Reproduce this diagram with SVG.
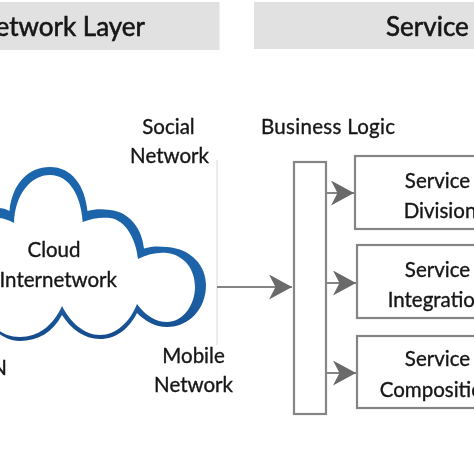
<svg xmlns="http://www.w3.org/2000/svg" width="474" height="474" viewBox="0 0 474 474">
<defs>
<filter id="soft" x="-5%" y="-5%" width="110%" height="110%"><feGaussianBlur stdDeviation="0.45"/></filter>
<linearGradient id="blue" x1="0" y1="0" x2="0" y2="1"><stop offset="0" stop-color="#1f66ad"/><stop offset=".7" stop-color="#1f63a8"/><stop offset="1" stop-color="#154a8a"/></linearGradient>
<marker id="arrow" markerUnits="userSpaceOnUse" markerWidth="24" markerHeight="26" refX="23" refY="12.5" orient="auto"><path d="M0 0L23 12.5L0 25L6.5 12.500Z" fill="#6a6a6a"/></marker>
</defs>
<style>
text{font-family:Lato,"Open Sans","Liberation Sans",sans-serif;font-size:20.5px;fill:#161616;stroke:#161616;stroke-width:.35px;text-anchor:middle}
.head{fill:#e1e1e1}
.hd{font-size:26px;stroke-width:.6px}
.box{fill:#fff;stroke:#858585;stroke-width:2.2}
.link{fill:none;stroke:#858585;stroke-width:2}
</style>
<rect width="474" height="474" fill="#fff"/>
<g filter="url(#soft)">
<g id="network-layer"><rect class="head" x="-2" y="2" width="221.500" height="48"/><text class="hd" x="145" y="36" style="text-anchor:end">Network Layer</text></g>
<g id="service-layer"><rect class="head" x="254" y="2" width="222" height="47"/><text class="hd" x="386" y="36" style="text-anchor:start">Service</text></g>
<path d="M217 160V345" stroke="#e6e6e6" stroke-width="1.500" fill="none"/>
<g id="cloud">
<path d="M-2 208C3 208 6 209 9.500 211C12 184 28 167 50 167C72 167 85 186 87.500 211C95 209 102 209 110 210C130 212 142 229 144 248.500C151 246 159 246 167 247C192 249 206 266 206 285C206 309 189 327 167 327C155 327 145 321 137 313C129 329 116 339 100 339C84 339 71 329 62 315C53 332 38 341 20 341C10 341 4 337 -2 333Z" fill="url(#blue)"/>
<path d="M-2 218C3 218 9 220 14 223C15 194 31 175 50 175C69 175 81 195 82.700 222C92 218 102 217 110 218C126 220 136 240 138 259C148 254 158 252 167 253C184 255 195 269 195 287C195 306 182 322 167 322C156 322 146 316 137 304C130 322 116 335 100 335C84 335 70 322 62 306C53 326 38 337 20 337C10 337 4 334 -2 330Z" fill="#fff"/>
<text x="54" y="257">Cloud</text><text x="117" y="287" style="text-anchor:end">Internetwork</text>
</g>
<g id="social-network"><text x="168.500" y="134">Social</text><text x="169.500" y="163">Network</text></g>
<g id="mobile-network"><text x="193.500" y="363">Mobile</text><text x="193.500" y="392">Network</text></g>
<g id="wan"><text x="7" y="375" style="text-anchor:end">N</text></g>
<g id="business-logic"><text x="328" y="134" textLength="134">Business Logic</text><rect class="box" x="294" y="162" width="32" height="252"/></g>
<g id="service-division"><rect class="box" x="355" y="156" width="125" height="73"/><text x="437.500" y="188">Service</text><text x="440" y="218">Division</text></g>
<g id="service-integration"><rect class="box" x="357" y="245" width="123" height="73"/><text x="437.500" y="277">Service</text><text x="437" y="307">Integration</text></g>
<g id="service-composition"><rect class="box" x="357" y="336" width="123" height="72"/><text x="437.500" y="366">Service</text><text x="437" y="397">Composition</text></g>
<g id="connectors">
<path class="link" d="M217 287H292" marker-end="url(#arrow)"/>
<path class="link" d="M326 193H354" marker-end="url(#arrow)"/>
<path class="link" d="M326 283H356" marker-end="url(#arrow)"/>
<path class="link" d="M326 373H356" marker-end="url(#arrow)"/>
</g>
</g>
</svg>
